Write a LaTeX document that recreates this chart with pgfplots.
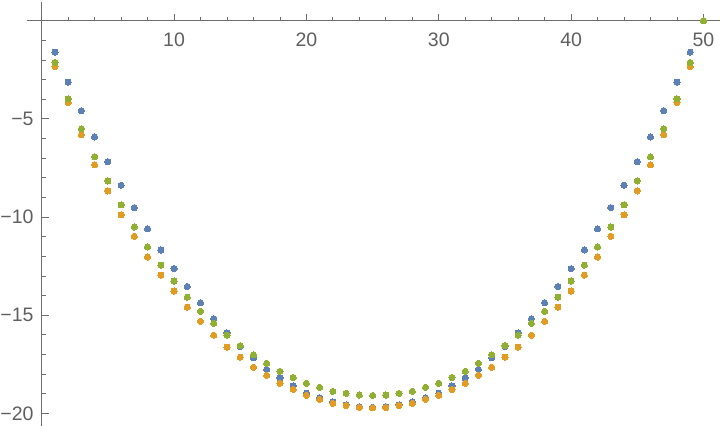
\documentclass[border=0pt]{standalone}
\usepackage{pgfplots}
\pgfplotsset{compat=1.18}
\usepackage{fontspec}
\setmainfont{Liberation Sans}
\definecolor{mblue}{RGB}{94,129,181}
\definecolor{morange}{RGB}{225,156,36}
\definecolor{mgreen}{RGB}{143,176,50}
\definecolor{axgray}{RGB}{110,110,110}
\definecolor{labgray}{RGB}{95,95,95}
\begin{document}
\begin{tikzpicture}
\begin{axis}[
  name=ax,
  scale only axis,
  width=693pt, height=424pt,
  xmin=-1.11, xmax=51.25,
  ymin=-20.63, ymax=0.97,
  axis lines=middle,
  axis line style={-, draw=axgray, line width=0.8pt},
  tick align=inside,
  tick style={draw=axgray, line width=0.8pt},
  major tick length=7pt,
  minor tick length=4pt,
  xtick={10,20,30,40,50},
  minor xtick={2,4,6,8,12,14,16,18,22,24,26,28,32,34,36,38,42,44,46,48},
  ytick={-20,-15,-10,-5},
  yticklabels={−20,−15,−10,−5},
  minor ytick={-1,-2,-3,-4,-6,-7,-8,-9,-11,-12,-13,-14,-16,-17,-18,-19},
  /pgf/number format/assume math mode=true,
  tick label style={font=\fontsize{19.5}{20}\selectfont, text=labgray, inner sep=0pt},
  xticklabel style={yshift=-12pt},
  yticklabel style={xshift=-8pt},
  clip=false,
]
\addplot[only marks, mark=*, color=mblue, mark size=3.1pt, mark options={line width=0pt, draw=mblue, fill=mblue}] coordinates {
(1,-1.60) (2,-3.13) (3,-4.58) (4,-5.92) (5,-7.18) (6,-8.38) (7,-9.52) (8,-10.60) (9,-11.68) (10,-12.63)
(11,-13.54) (12,-14.37) (13,-15.18) (14,-15.90) (15,-16.60) (16,-17.17) (17,-17.76) (18,-18.20) (19,-18.60) (20,-18.97)
(21,-19.20) (22,-19.42) (23,-19.57) (24,-19.66) (25,-19.69) (26,-19.66) (27,-19.57) (28,-19.42) (29,-19.20) (30,-18.97)
(31,-18.60) (32,-18.20) (33,-17.76) (34,-17.17) (35,-16.60) (36,-15.90) (37,-15.18) (38,-14.37) (39,-13.54) (40,-12.63)
(41,-11.68) (42,-10.60) (43,-9.52) (44,-8.38) (45,-7.18) (46,-5.92) (47,-4.58) (48,-3.13) (49,-1.60) (50,0)
};
\addplot[only marks, mark=*, color=morange, mark size=3.1pt, mark options={line width=0pt, draw=morange, fill=morange}] coordinates {
(1,-2.33) (2,-4.17) (3,-5.81) (4,-7.34) (5,-8.67) (6,-9.89) (7,-10.98) (8,-12.04) (9,-12.96) (10,-13.77)
(11,-14.59) (12,-15.31) (13,-16.02) (14,-16.63) (15,-17.14) (16,-17.65) (17,-18.06) (18,-18.47) (19,-18.78) (20,-19.08)
(21,-19.29) (22,-19.49) (23,-19.60) (24,-19.70) (25,-19.72) (26,-19.70) (27,-19.60) (28,-19.49) (29,-19.29) (30,-19.08)
(31,-18.78) (32,-18.47) (33,-18.06) (34,-17.65) (35,-17.14) (36,-16.63) (37,-16.02) (38,-15.31) (39,-14.59) (40,-13.77)
(41,-12.96) (42,-12.04) (43,-10.98) (44,-9.89) (45,-8.67) (46,-7.34) (47,-5.81) (48,-4.17) (49,-2.33) (50,0)
};
\addplot[only marks, mark=*, color=mgreen, mark size=3.1pt, mark options={line width=0pt, draw=mgreen, fill=mgreen}] coordinates {
(1,-2.13) (2,-3.98) (3,-5.50) (4,-6.93) (5,-8.16) (6,-9.38) (7,-10.51) (8,-11.53) (9,-12.45) (10,-13.26)
(11,-14.08) (12,-14.80) (13,-15.41) (14,-16.02) (15,-16.55) (16,-17.02) (17,-17.45) (18,-17.86) (19,-18.17) (20,-18.47)
(21,-18.68) (22,-18.88) (23,-18.98) (24,-19.07) (25,-19.09) (26,-19.07) (27,-18.98) (28,-18.88) (29,-18.68) (30,-18.47)
(31,-18.17) (32,-17.86) (33,-17.45) (34,-17.02) (35,-16.55) (36,-16.02) (37,-15.41) (38,-14.80) (39,-14.08) (40,-13.26)
(41,-12.45) (42,-11.53) (43,-10.51) (44,-9.38) (45,-8.16) (46,-6.93) (47,-5.50) (48,-3.98) (49,-2.13) (50,0)
};
\end{axis}
\pgfresetboundingbox
\path[use as bounding box] ([xshift=-27pt,yshift=1.7pt]ax.north west) rectangle ([yshift=-4.3pt]ax.south east);
\end{tikzpicture}
\end{document}
